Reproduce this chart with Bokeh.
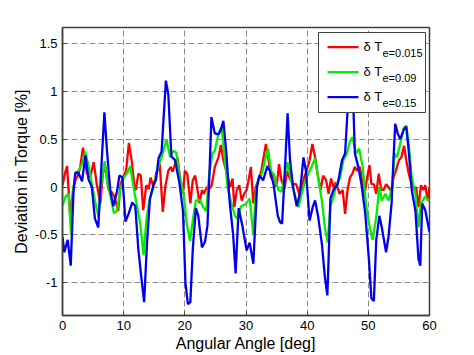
from bokeh.plotting import figure
from bokeh.models import Range1d, FixedTicker, Label
from bokeh.embed import file_html
from bokeh.resources import INLINE

# ---- data ----
angle_red = [0, 0.4, 0.75, 1.25, 1.8, 2.1, 2.5, 2.9, 3.35, 4.0, 4.5, 5.1, 5.6, 6.2, 6.6, 7.0, 7.5, 8.0,
             8.5, 9.1, 9.5, 10.0, 10.4, 10.85, 11.3, 11.8, 12.0, 12.4, 12.8, 13.2, 13.7, 14.1, 14.4,
             14.9, 15.3, 15.9, 16.4, 16.8, 17.3, 17.7, 18.0, 18.4, 18.8, 19.2, 19.7, 20.0, 20.4, 20.9,
             21.3, 21.7, 22.0, 22.4, 22.8, 23.1, 23.6, 24.0, 24.4, 24.9, 25.5, 25.9, 26.3, 26.9, 27.4,
             27.8, 28.1, 28.5, 28.9, 29.3, 29.7, 30.1, 30.5, 30.8, 31.2, 31.6, 32.0, 32.5, 32.8, 33.25,
             33.7, 34.1, 34.5, 35.0, 35.4, 35.8, 36.3, 36.7, 37.1, 37.7, 38.2, 38.7, 39.1, 39.5, 39.9,
             40.4, 40.85, 41.3, 41.8, 42.2, 42.6, 43.1, 43.5, 43.9, 44.3, 44.7, 45.3, 45.8, 46.2, 46.6,
             47.0, 47.4, 47.8, 48.2, 48.6, 49.0, 49.4, 49.8, 50.2, 50.5, 50.9, 51.3, 51.7, 52.1, 52.5,
             52.9, 53.3, 53.8, 54.1, 54.5, 55.0, 55.4, 55.85, 56.2, 56.6, 56.9, 57.3, 57.8, 58.2, 58.6,
             59.0, 59.3, 59.7, 60.0]
dev_red = [0.02, 0.14, 0.22, -0.3, 0.0, 0.07, 0.12, 0.21, 0.41, 0.14, 0.1, 0.26, 0.03, -0.17, 0.14, 0.21,
           -0.02, -0.05, -0.1, -0.25, 0.03, 0.12, 0.17, 0.46, 0.28, -0.02, -0.03, 0.14, 0.12, -0.24, 0.02,
           -0.02, 0.1, 0.0, 0.14, 0.24, -0.26, 0.0, 0.17, 0.21, 0.16, 0.24, 0.31, 0.1, -0.07, 0.17, 0.14,
           -0.17, 0.07, 0.12, 0.0, -0.17, -0.03, -0.07, 0.0, -0.02, 0.02, 0.21, 0.31, 0.44, 0.28, 0.14,
           0.0, 0.09, -0.21, -0.03, 0.02, -0.14, -0.07, -0.03, 0.1, 0.21, -0.17, 0.0, 0.07, 0.17, 0.28,
           0.45, 0.28, 0.09, 0.14, 0.0, 0.24, 0.07, -0.02, 0.17, 0.1, 0.03, 0.03, -0.07, -0.02, 0.1, 0.17,
           0.28, 0.45, 0.31, 0.1, -0.03, 0.12, 0.07, -0.07, 0.09, 0.0, 0.05, -0.07, -0.03, -0.28, -0.03,
           0.1, 0.14, 0.21, 0.17, 0.21, 0.07, -0.07, 0.1, 0.23, 0.03, 0.03, -0.07, 0.14, -0.03, -0.03,
           0.03, 0.0, -0.05, 0.1, 0.17, 0.28, 0.31, 0.43, 0.28, 0.14, 0.07, -0.03, 0.0, -0.21, 0.02,
           -0.03, 0.02, -0.14, 0.0]

angle_green = [0, 0.5, 1.0, 1.4, 1.7, 2.1, 2.6, 3.2, 3.7, 4.2, 4.8, 5.3, 5.9, 6.4, 6.9, 7.3, 7.8, 8.4,
               8.9, 9.4, 10.0, 10.5, 11.1, 11.6, 12.1, 12.7, 13.25, 13.7, 14.2, 14.8, 15.3, 15.8, 16.4,
               17.0, 17.6, 18.1, 18.6, 19.2, 19.8, 20.3, 20.85, 21.3, 21.8, 22.5, 23.0, 23.5, 24.0, 24.5,
               24.9, 25.5, 26.0, 26.5, 27.0, 27.5, 28.2, 28.6, 29.2, 29.9, 30.6, 31.2, 31.6, 32.0, 32.6,
               33.1, 33.6, 34.1, 34.6, 35.3, 35.8, 36.3, 36.8, 37.3, 37.9, 38.6, 39.1, 39.7, 40.2, 40.7,
               41.3, 41.8, 42.4, 42.9, 43.35, 43.8, 44.3, 44.8, 45.4, 45.9, 46.5, 47.0, 47.4, 48.0, 48.5,
               49.1, 49.6, 50.1, 50.7, 51.3, 51.8, 52.2, 52.8, 53.3, 53.9, 54.3, 54.7, 55.2, 55.8, 56.2,
               56.6, 57.1, 57.7, 58.2, 58.6, 59.3, 60.0]
dev_green = [-0.19, -0.1, -0.07, -0.5, -0.05, 0.14, 0.17, 0.24, 0.37, 0.24, 0.03, -0.14, -0.31, 0.07, 0.27,
             0.07, -0.08, -0.27, -0.25, -0.05, 0.1, 0.14, 0.22, 0.0, -0.17, -0.38, -0.71, -0.35, -0.14,
             -0.02, 0.12, 0.24, 0.35, 0.5, 0.31, 0.38, 0.36, 0.1, -0.07, -0.38, -0.56, -0.35, -0.14, -0.14,
             -0.21, -0.25, 0.14, 0.35, 0.38, 0.56, 0.63, 0.31, 0.0, -0.14, -0.3, -0.33, -0.2, -0.18, -0.12,
             -0.5, -0.05, 0.08, 0.14, 0.28, 0.4, 0.17, 0.12, -0.03, -0.05, 0.1, 0.26, 0.1, -0.07, -0.21,
             -0.07, 0.07, 0.14, 0.21, 0.3, 0.1, -0.14, -0.42, -0.58, -0.2, -0.1, 0.03, 0.1, 0.28, 0.35, 0.48,
             0.52, 0.35, 0.4, 0.2, -0.17, -0.38, -0.55, -0.31, 0.0, -0.14, -0.07, -0.14, 0.0, 0.35, 0.31,
             0.45, 0.62, 0.64, 0.45, 0.1, -0.07, -0.42, -0.17, -0.1, -0.15]

angle_blue = [0, 0.3, 0.85, 1.35, 1.8, 2.1, 2.6, 3.2, 3.75, 4.25, 4.8, 5.3, 5.85, 6.3, 6.85, 7.25, 7.8,
              8.3, 8.9, 9.3, 9.8, 10.3, 10.8, 11.4, 11.9, 12.4, 12.9, 13.35, 13.8, 14.3, 14.9, 15.3, 15.7,
              16.2, 16.9, 17.3, 17.8, 18.4, 19.1, 19.7, 20.1, 20.5, 20.9, 21.3, 21.8, 22.2, 22.8, 23.3,
              23.7, 24.0, 24.35, 24.9, 25.5, 25.8, 26.3, 26.8, 27.3, 27.9, 28.3, 28.8, 29.4, 30.1, 30.6,
              31.2, 31.8, 32.2, 32.8, 33.5, 33.9, 34.5, 35.2, 35.6, 35.9, 36.3, 36.8, 37.2, 37.7, 38.3,
              38.8, 39.4, 39.8, 40.4, 40.9, 41.3, 41.8, 42.4, 42.9, 43.3, 43.5, 43.8, 44.3, 45.0, 45.7,
              46.2, 46.7, 47.1, 47.5, 47.8, 48.4, 48.95, 49.5, 50.1, 50.5, 50.9, 51.3, 51.8, 52.2, 52.9,
              53.3, 53.8, 54.1, 54.4, 54.8, 55.2, 55.8, 56.2, 56.6, 57.1, 57.7, 58.2, 58.5, 58.8, 59.3, 60.0]
dev_blue = [-0.52, -0.68, -0.55, -0.82, -0.05, 0.15, 0.15, 0.06, 0.33, 0.08, 0.0, -0.33, -0.42, 0.15, 0.78,
            0.4, -0.03, -0.2, -0.05, 0.12, 0.1, -0.36, -0.28, -0.16, -0.2, -0.65, -0.95, -1.2, -0.6, -0.12,
            0.03, 0.08, 0.3, 0.37, 1.11, 0.97, 0.32, 0.28, 0.05, -0.25, -1.0, -1.22, -1.2, -0.65, -0.22,
            -0.3, -0.63, -0.57, -0.4, 0.1, 0.73, 0.56, 0.55, 0.58, 0.69, 0.35, -0.14, -0.5, -0.9, -0.22,
            -0.4, -0.66, -0.58, -0.8, 0.0, 0.12, 0.07, 0.22, 0.17, 0.03, -0.3, -0.37, -0.38, 0.1, 0.77, 0.28,
            0.0, -0.2, -0.07, 0.31, 0.17, -0.35, -0.21, -0.14, -0.31, -0.59, -0.94, -1.13, -0.76, -0.12,
            -0.03, 0.03, 0.28, 0.35, 0.9, 1.05, 0.95, 0.35, 0.2, 0.0, -0.28, -0.76, -1.16, -1.19, -0.55,
            -0.3, -0.42, -0.68, -0.52, -0.17, 0.28, 0.66, 0.56, 0.5, 0.6, 0.63, 0.38, -0.03, -0.25, -0.75,
            -0.82, -0.17, -0.24, -0.47]

series_names = ["δ T", "δ T", "δ T"]
series_subscripts = ["e=0.015", "e=0.09", "e=0.15"]
series_colors = ["#ff0000", "#00ee00", "#0000ee"]

x_ticks = [0, 10, 20, 30, 40, 50, 60]
x_tick_labels = ["0", "10", "20", "30", "40", "50", "60"]
y_ticks = [-1, -0.5, 0, 0.5, 1, 1.5]
y_tick_labels = ["-1", "-0.5", "0", "0.5", "1", "1.5"]

x_label = "Angular Angle [deg]"
y_label = "Deviation in Torque [%]"

X_MIN, X_MAX = 0, 60
Y_MIN, Y_MAX = -1.34, 1.665

FONT = "Liberation Sans"

p = figure(width=474, height=355, output_backend="svg", toolbar_location=None,
           x_range=Range1d(X_MIN, X_MAX), y_range=Range1d(Y_MIN, Y_MAX),
           min_border_left=62, min_border_right=45, min_border_top=27, min_border_bottom=40)
p.background_fill_color = "white"
p.border_fill_color = "white"
p.outline_line_color = "#404040"
p.outline_line_width = 1.5

# axes
for ax, ticks, labels in ((p.xaxis, x_ticks, x_tick_labels), (p.yaxis, y_ticks, y_tick_labels)):
    ax.ticker = FixedTicker(ticks=ticks)
    ax.major_label_overrides = {t: l for t, l in zip(ticks, labels)}
    ax.major_label_text_font = FONT
    ax.major_label_text_font_size = "13px"
    ax.major_label_text_color = "black"
    ax.major_label_standoff = 5
    ax.major_tick_in = 4
    ax.major_tick_out = 0
    ax.minor_tick_line_color = None
    ax.axis_line_color = "#404040"
    ax.axis_line_width = 1.5
    ax.major_tick_line_color = "#404040"
    ax.axis_label_text_font = FONT
    ax.axis_label_text_font_size = "16px"
    ax.axis_label_text_font_style = "normal"
    ax.axis_label_text_color = "black"
    ax.axis_label_standoff = 2
p.xaxis.axis_label = x_label
p.yaxis.axis_label = y_label

for g in (p.xgrid, p.ygrid):
    g.grid_line_color = "#8c8c8c"
    g.grid_line_dash = "6 3"
    g.grid_line_width = 1

# series
data = [(angle_red, dev_red), (angle_green, dev_green), (angle_blue, dev_blue)]
for (xs, ys), col in zip(data, series_colors):
    p.line(xs, ys, line_color=col, line_width=2.3)

# ---- legend, drawn by hand (frame pixel layout -> data coordinates) ----
frame_left, frame_top, frame_w, frame_h = 62, 27, 367, 288
def px_to_x(px):
    return X_MIN + (px - frame_left) / frame_w * (X_MAX - X_MIN)
def py_to_y(py):
    return Y_MAX - (py - frame_top) / frame_h * (Y_MAX - Y_MIN)

LEG_LEFT, LEG_RIGHT, LEG_TOP, LEG_BOTTOM = 318, 425, 32, 112
ROW0, ROW_STEP = 46.7, 25
SAMPLE_X0, SAMPLE_X1, TEXT_X, SUB_X = 327, 358, 363, 382

# white box drawn after the lines so that it hides them
p.quad(left=[px_to_x(LEG_LEFT)], right=[px_to_x(LEG_RIGHT)],
       top=[py_to_y(LEG_TOP)], bottom=[py_to_y(LEG_BOTTOM)],
       fill_color="white", fill_alpha=1.0, line_color="#404040", line_width=1)

for i, (name, sub, col) in enumerate(zip(series_names, series_subscripts, series_colors)):
    row = ROW0 + ROW_STEP * i
    p.segment(x0=[px_to_x(SAMPLE_X0)], x1=[px_to_x(SAMPLE_X1)], y0=[py_to_y(row)], y1=[py_to_y(row)],
              line_color=col, line_width=2.3)
    p.add_layout(Label(x=px_to_x(TEXT_X), y=py_to_y(row - 1), text=name,
                       text_font=FONT, text_font_size="13px", text_color="black",
                       text_baseline="middle", text_align="left"))
    p.add_layout(Label(x=px_to_x(SUB_X), y=py_to_y(row + 6), text=sub,
                       text_font=FONT, text_font_size="11px", text_color="black",
                       text_baseline="middle", text_align="left"))

open("out.html", "w").write(file_html(p, INLINE))
